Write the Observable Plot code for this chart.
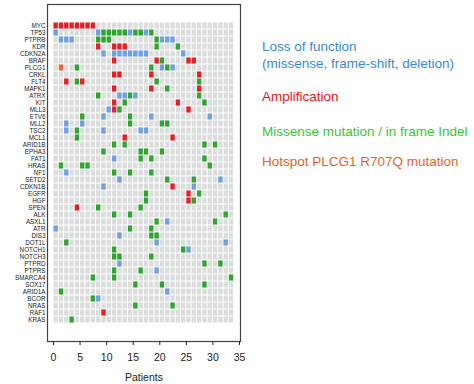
<!DOCTYPE html>
<html><head><meta charset="utf-8">
<script src="https://cdn.jsdelivr.net/npm/d3@7"></script>
<script src="https://cdn.jsdelivr.net/npm/@observablehq/plot@0.6"></script>
<style>
body{margin:0;background:#fff;font-family:"Liberation Sans",Arial,sans-serif}
#wrap{position:relative;width:474px;height:384px;overflow:hidden;background:#fff}
#chart{position:absolute;left:0;top:0}
.leg{position:absolute;left:262px;font-size:13.5px;white-space:nowrap;line-height:16px}
</style></head><body>
<div id="wrap"><div id="chart"></div>
<div class="leg" style="top:39px;color:#3b8ad6">Loss of function</div>
<div class="leg" style="top:56px;color:#3b8ad6">(missense, frame-shift, deletion)</div>
<div class="leg" style="top:89px;color:#e8141c">Amplification</div>
<div class="leg" style="top:124px;color:#3cc43c">Missense mutation / in frame Indel</div>
<div class="leg" style="top:154px;color:#e8641e">Hotspot PLCG1 R707Q mutation</div>
</div>
<script>
const genes = ["MYC","TP53","PTPRB","KDR","CDKN2A","BRAF","PLCG1","CRKL","FLT4","MAPK1","ATRX","KIT","MLL3","ETV6","MLL2","TSC2","MCL1","ARID1B","EPHA3","FAT1","HRAS","NF1","SETD2","CDKN1B","EGFR","HGF","SPEN","ALK","ASXL1","ATR","DIS3","DOT1L","NOTCH1","NOTCH3","PTPRD","PTPRS","SMARCA4","SOX17","ARID1A","BCOR","NRAS","RAF1","KRAS"];
const patients = [1,2,3,4,5,6,7,8,9,10,11,12,13,14,15,16,17,18,19,20,21,22,23,24,25,26,27,28,29,30,31,32,33,34];
const xTicks = [0,5,10,15,20,25,30,35];

// Loss of function (missense, frame-shift, deletion)
const lossOfFunction = [
  ["TP53",[1,9,15,18]], ["PTPRB",[2,3,4,21,22,23]], ["CDKN2A",[10,12,13,14,15,16,17,18,25]],
  ["PLCG1",[21,23]], ["ATRX",[13,14,16]], ["MLL3",[11]], ["ETV6",[10,19,30]], ["MLL2",[3,6]],
  ["TSC2",[3,10,17,18]], ["FAT1",[12]], ["NF1",[3]], ["SETD2",[13,32]], ["CDKN1B",[10,27]],
  ["ASXL1",[22]], ["ATR",[1]], ["DIS3",[13]], ["DOT1L",[20,33]], ["NOTCH1",[26]],
  ["PTPRD",[13]], ["PTPRS",[20]], ["ARID1A",[22]], ["BCOR",[9]]
];
// Amplification
const amplification = [
  ["MYC",[1,2,3,4,5,6,7,8]], ["KDR",[9,12,13,14]], ["BRAF",[12,20,26,27]], ["CRKL",[12,13,19,28]],
  ["FLT4",[3,6]], ["MAPK1",[12,19,28]], ["KIT",[12,24]], ["MLL3",[12,26]], ["MCL1",[14,23]],
  ["CDKN1B",[23]], ["EGFR",[26]], ["HGF",[26]], ["SPEN",[5]], ["RAF1",[10]]
];
// Missense mutation / in frame Indel
const missense = [
  ["TP53",[10,11,12,13,14,16,17,19]], ["PTPRB",[9,10,11,20]], ["KDR",[20,24]], ["BRAF",[21]],
  ["PLCG1",[5,19,22]], ["FLT4",[5,20,28]], ["MAPK1",[22]], ["ATRX",[9,15,28]], ["KIT",[14,29]],
  ["MLL3",[13]], ["ETV6",[6,15]], ["MLL2",[15,21,22]], ["TSC2",[5]], ["MCL1",[5]],
  ["ARID1B",[12,14,29,31]], ["EPHA3",[10,17,18,21]], ["FAT1",[17,19,29]], ["HRAS",[2,6,7,30]],
  ["NF1",[12,15,19]], ["SETD2",[22,27]], ["EGFR",[18,28]], ["HGF",[18,27]], ["SPEN",[9,17]],
  ["ALK",[12,15,33]], ["ASXL1",[20,31]], ["ATR",[15,19]], ["DIS3",[19,20]], ["DOT1L",[3]],
  ["NOTCH1",[12,25]], ["NOTCH3",[12,13,19]], ["PTPRD",[29,32]], ["PTPRS",[12,17]],
  ["SMARCA4",[8,12,34]], ["SOX17",[16,21,29]], ["ARID1A",[2]], ["BCOR",[8]], ["NRAS",[16,23]], ["KRAS",[4]]
];
// Hotspot PLCG1 R707Q mutation
const hotspot = [["PLCG1",[2]]];

const types = ["Loss of function","Amplification","Missense","Hotspot"];
const typeColors = ["#6fa0e6","#ec1c24","#2ea52e","#f0653f"];

const cells = [];
[[types[0], lossOfFunction],[types[1], amplification],[types[2], missense],[types[3], hotspot]]
  .forEach(([type, list]) => list.forEach(([gene, ps]) => ps.forEach(p => cells.push({gene, patient: p, type}))));
const grid = genes.flatMap(g => patients.map(p => ({gene: g, patient: p})));

const chart = Plot.plot({
  width: 245, height: 384,
  marginLeft: 47, marginRight: 5, marginTop: 4, marginBottom: 43,
  style: {fontFamily: "Liberation Sans, Arial, sans-serif", background: "white", color: "#222"},
  x: {domain: [-1.13, 35.19]},
  y: {type: "band", domain: genes, paddingInner: 0, paddingOuter: 1.6},
  color: {domain: types, range: typeColors},
  marks: [
    Plot.barX(grid, {x1: d => d.patient - 1, x2: "patient", y: "gene", fill: "#dcdddd", inset: 0.5}),
    Plot.barX(cells, {x1: d => d.patient - 1, x2: "patient", y: "gene", fill: "type", inset: 0.5}),
    Plot.frame({stroke: "#444", strokeWidth: 1.2}),
    Plot.axisX({ticks: xTicks, tickSize: 4, tickPadding: 8, fontSize: 10.5, label: "Patients", labelAnchor: "center", labelArrow: "none", labelOffset: 39}),
    Plot.axisY({tickSize: 0, tickPadding: 2, fontSize: 6.3, label: null})
  ]
});
document.getElementById("chart").appendChild(chart);
</script>
</body></html>
